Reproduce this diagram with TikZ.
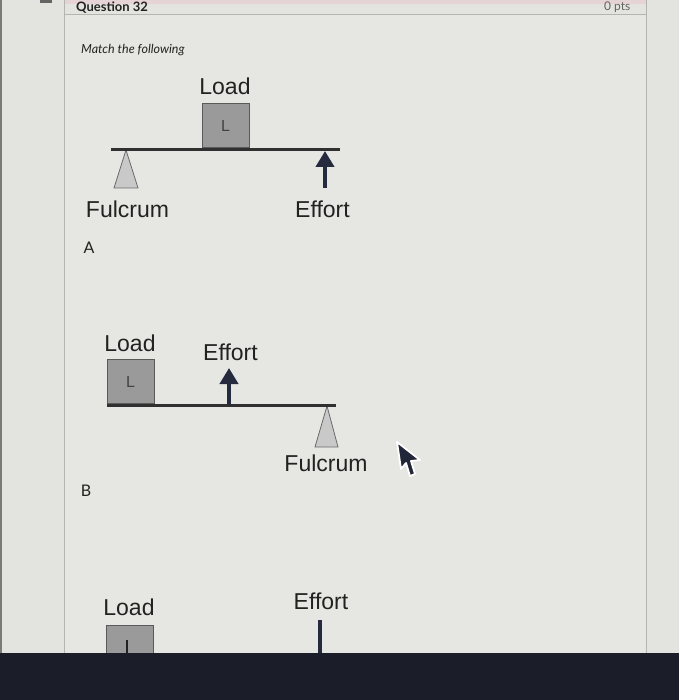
\documentclass[tikz,border=0pt]{standalone}
\usepackage{fontspec}
\setmainfont{Liberation Sans}
\newfontfamily\latofont{Lato}
\usetikzlibrary{arrows.meta}
\definecolor{bg}{HTML}{E3E3DF}
\definecolor{panel}{HTML}{E6E6E2}
\definecolor{txt}{HTML}{222222}
\definecolor{boxfill}{HTML}{9A9A9A}
\definecolor{boxedge}{HTML}{5A5A5A}
\definecolor{fulfill}{HTML}{C9C9C9}
\definecolor{fuledge}{HTML}{6A6A6A}
\definecolor{arrowc}{HTML}{252A3F}
\definecolor{beamc}{HTML}{303030}
\definecolor{barc}{HTML}{1B1E28}
\definecolor{pinkc}{HTML}{E6D3D6}
\definecolor{linec}{HTML}{B4B4B0}
\begin{document}
\begin{tikzpicture}[x=1pt,y=-1pt,
  lbl/.style={font=\fontsize{23}{24}\selectfont, text=txt, inner sep=0pt},
  letter/.style={font=\latofont\fontsize{16}{16}\selectfont, text=txt, inner sep=0pt},
  loadbox/.style={draw=boxedge, fill=boxfill, line width=0.8pt},
  boxtxt/.style={font=\fontsize{16}{16}\selectfont, text=txt!85, inner sep=0pt},
  beam/.style={draw=beamc, line width=3pt},
  fulcrum/.style={draw=fuledge, fill=fulfill, line width=0.8pt},
  effortarrow/.style={draw=arrowc, line width=4.5pt, -{Triangle[width=18pt,length=16pt]}},
  shaft/.style={draw=arrowc, line width=4.5pt}
]
\useasboundingbox (0,0) rectangle (679,700);
% backgrounds
\fill[bg] (0,0) rectangle (679,700);
\fill[panel] (64,15) rectangle (646,653);
\fill[pinkc] (64,0) rectangle (646,4);
\fill[txt!60] (0,0) rectangle (2,653);
\fill[txt!70] (40,0) rectangle (52,3);
\draw[linec, line width=1pt] (64,0) -- (64,653);
\draw[linec, line width=1pt] (646,0) -- (646,653);
\draw[linec, line width=1pt] (64,15) -- (646,15);
\node[font=\latofont\bfseries\fontsize{13}{13}\selectfont, text=txt, anchor=base west, inner sep=0pt] (qtitle) at (76,12) {Question 32};
\node[font=\latofont\fontsize{12}{12}\selectfont, text=txt!70, anchor=base west, inner sep=0pt] (pts) at (604,11) {0 pts};
\node[font=\latofont\itshape\fontsize{12.5}{13}\selectfont, text=txt, anchor=west, inner sep=0pt] (match) at (81,50) {Match the following};

% ---------- Lever A ----------
\coordinate (bA1) at (111,149.5);
\coordinate (bA2) at (340,149.5);
\node[loadbox, minimum width=47pt, minimum height=44pt, inner sep=0pt, anchor=south] (boxA) at (225.5,148) {};
\node[boxtxt] (LA) at (boxA.center) {L};
\draw[fulcrum] (126,150) -- (138,188) -- (114,188) -- cycle;
\coordinate (fA) at (126,150);
\draw[beam] (bA1) -- (bA2);
\coordinate (eA0) at (325,188);
\coordinate (eA1) at (325,151);
\draw[effortarrow] (eA0) -- (eA1);
\node[lbl] (loadA) at (225,86) {Load};
\node[lbl] (fulA) at (127.5,209) {Fulcrum};
\node[lbl] (effA) at (322.5,209) {Effort};
\node[letter] (labA) at (89,248) {A};

% ---------- Lever B ----------
\coordinate (bB1) at (107,405.5);
\coordinate (bB2) at (336,405.5);
\node[loadbox, minimum width=47pt, minimum height=44pt, inner sep=0pt, anchor=south] (boxB) at (130.5,404) {};
\node[boxtxt] (LB) at (boxB.center) {L};
\draw[fulcrum] (327,406) -- (338,447) -- (315,447) -- cycle;
\draw[beam] (bB1) -- (bB2);
\coordinate (eB0) at (229,405);
\coordinate (eB1) at (229,368);
\draw[effortarrow] (eB0) -- (eB1);
\node[lbl] (loadB) at (130,343) {Load};
\node[lbl] (effB) at (230.5,352) {Effort};
\node[lbl] (fulB) at (326,463) {Fulcrum};
\node[letter] (labB) at (86,491) {B};
% mouse cursor
\draw[white, line width=1.8pt, line join=round, fill=arrowc!90!black]
  (397,442) -- (401,469) -- (406,463) -- (410,476) -- (415,474) -- (411,461) -- (420,460) -- cycle;

% ---------- Lever C (cut off) ----------
\node[loadbox, minimum width=47pt, minimum height=40pt, inner sep=0pt, anchor=north] (boxC) at (129.5,625) {};
\draw[txt, line width=1.2pt] (127,640) -- (127,655);
\node[lbl] (loadC) at (129,607.5) {Load};
\node[lbl] (effC) at (321,601) {Effort};
\coordinate (eC0) at (320,660);
\coordinate (eC1) at (320,620);
\draw[shaft] (eC0) -- (eC1);

% bottom dark bar
\fill[barc] (0,653) rectangle (679,700);
\end{tikzpicture}
\end{document}
